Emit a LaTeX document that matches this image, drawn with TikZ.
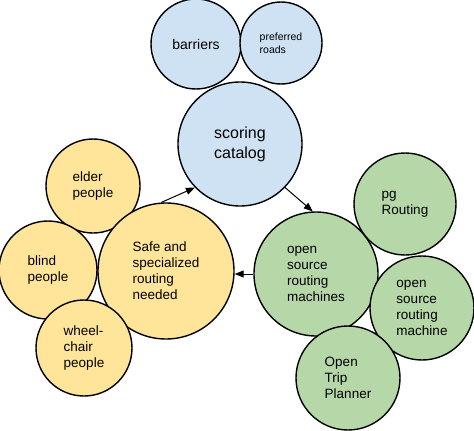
\documentclass[tikz,border=0pt]{standalone}
\usepackage{fontspec}
\setmainfont{Liberation Sans}
\usetikzlibrary{arrows.meta}
\definecolor{catblue}{HTML}{CFE2F3}
\definecolor{useryellow}{HTML}{FFE599}
\definecolor{routegreen}{HTML}{B6D7A8}
\tikzstyle{bubble}=[circle, draw, line width=1.4pt, align=left, inner sep=0pt, font=\fontsize{13.5}{16}\selectfont]
\tikzstyle{catalog}=[bubble, fill=catblue]
\tikzstyle{users}=[bubble, fill=useryellow]
\tikzstyle{engines}=[bubble, fill=routegreen]
\tikzstyle{flow}=[line width=1pt, -{Triangle[length=9pt, width=7pt]}]

\begin{document}
\begin{tikzpicture}[x=1pt, y=-1pt]
\useasboundingbox (0,0) rectangle (474,431);
% Scoring catalog
    \node[catalog, minimum size=90, font=\fontsize{14}{16}\selectfont] (barriers) at (196,44) {barriers};
    \node[catalog, minimum size=82, font=\fontsize{10.5}{13}\selectfont] (roads) at (281,43) {preferred\\roads};
    \node[catalog, minimum size=124, font=\fontsize{16}{20}\selectfont] (scoring) at (240,144) {scoring\\catalog};
% User groups
    \node[users, minimum size=94] (elder) at (93,186) {elder\\people};
    \node[users, minimum size=98] (blind) at (48,270) {blind\\people};
    \node[users, minimum size=136] (safe) at (166,271) {Safe and\\specialized\\routing\\needed};
    \node[users, minimum size=96] (wheel) at (84,348) {wheel-\\chair\\people};
% Routing engines
    \node[engines, minimum size=124] (machines) at (316,274) {open\\source\\routing\\machines};
    \node[engines, minimum size=102] (pgrouting) at (405,204) {pg\\Routing};
    \node[engines, minimum size=104] (osrm) at (422,308) {open\\source\\routing\\machine};
    \node[engines, minimum size=104] (otp) at (348,378) {Open\\Trip\\Planner};
% Cycle
    \draw[flow] (safe.94) -- (scoring.224);
    \draw[flow] (scoring.-44) -- (machines.93);
    \draw[flow] (machines.west) -- (machines.west -| safe.east);
\end{tikzpicture}
\end{document}
